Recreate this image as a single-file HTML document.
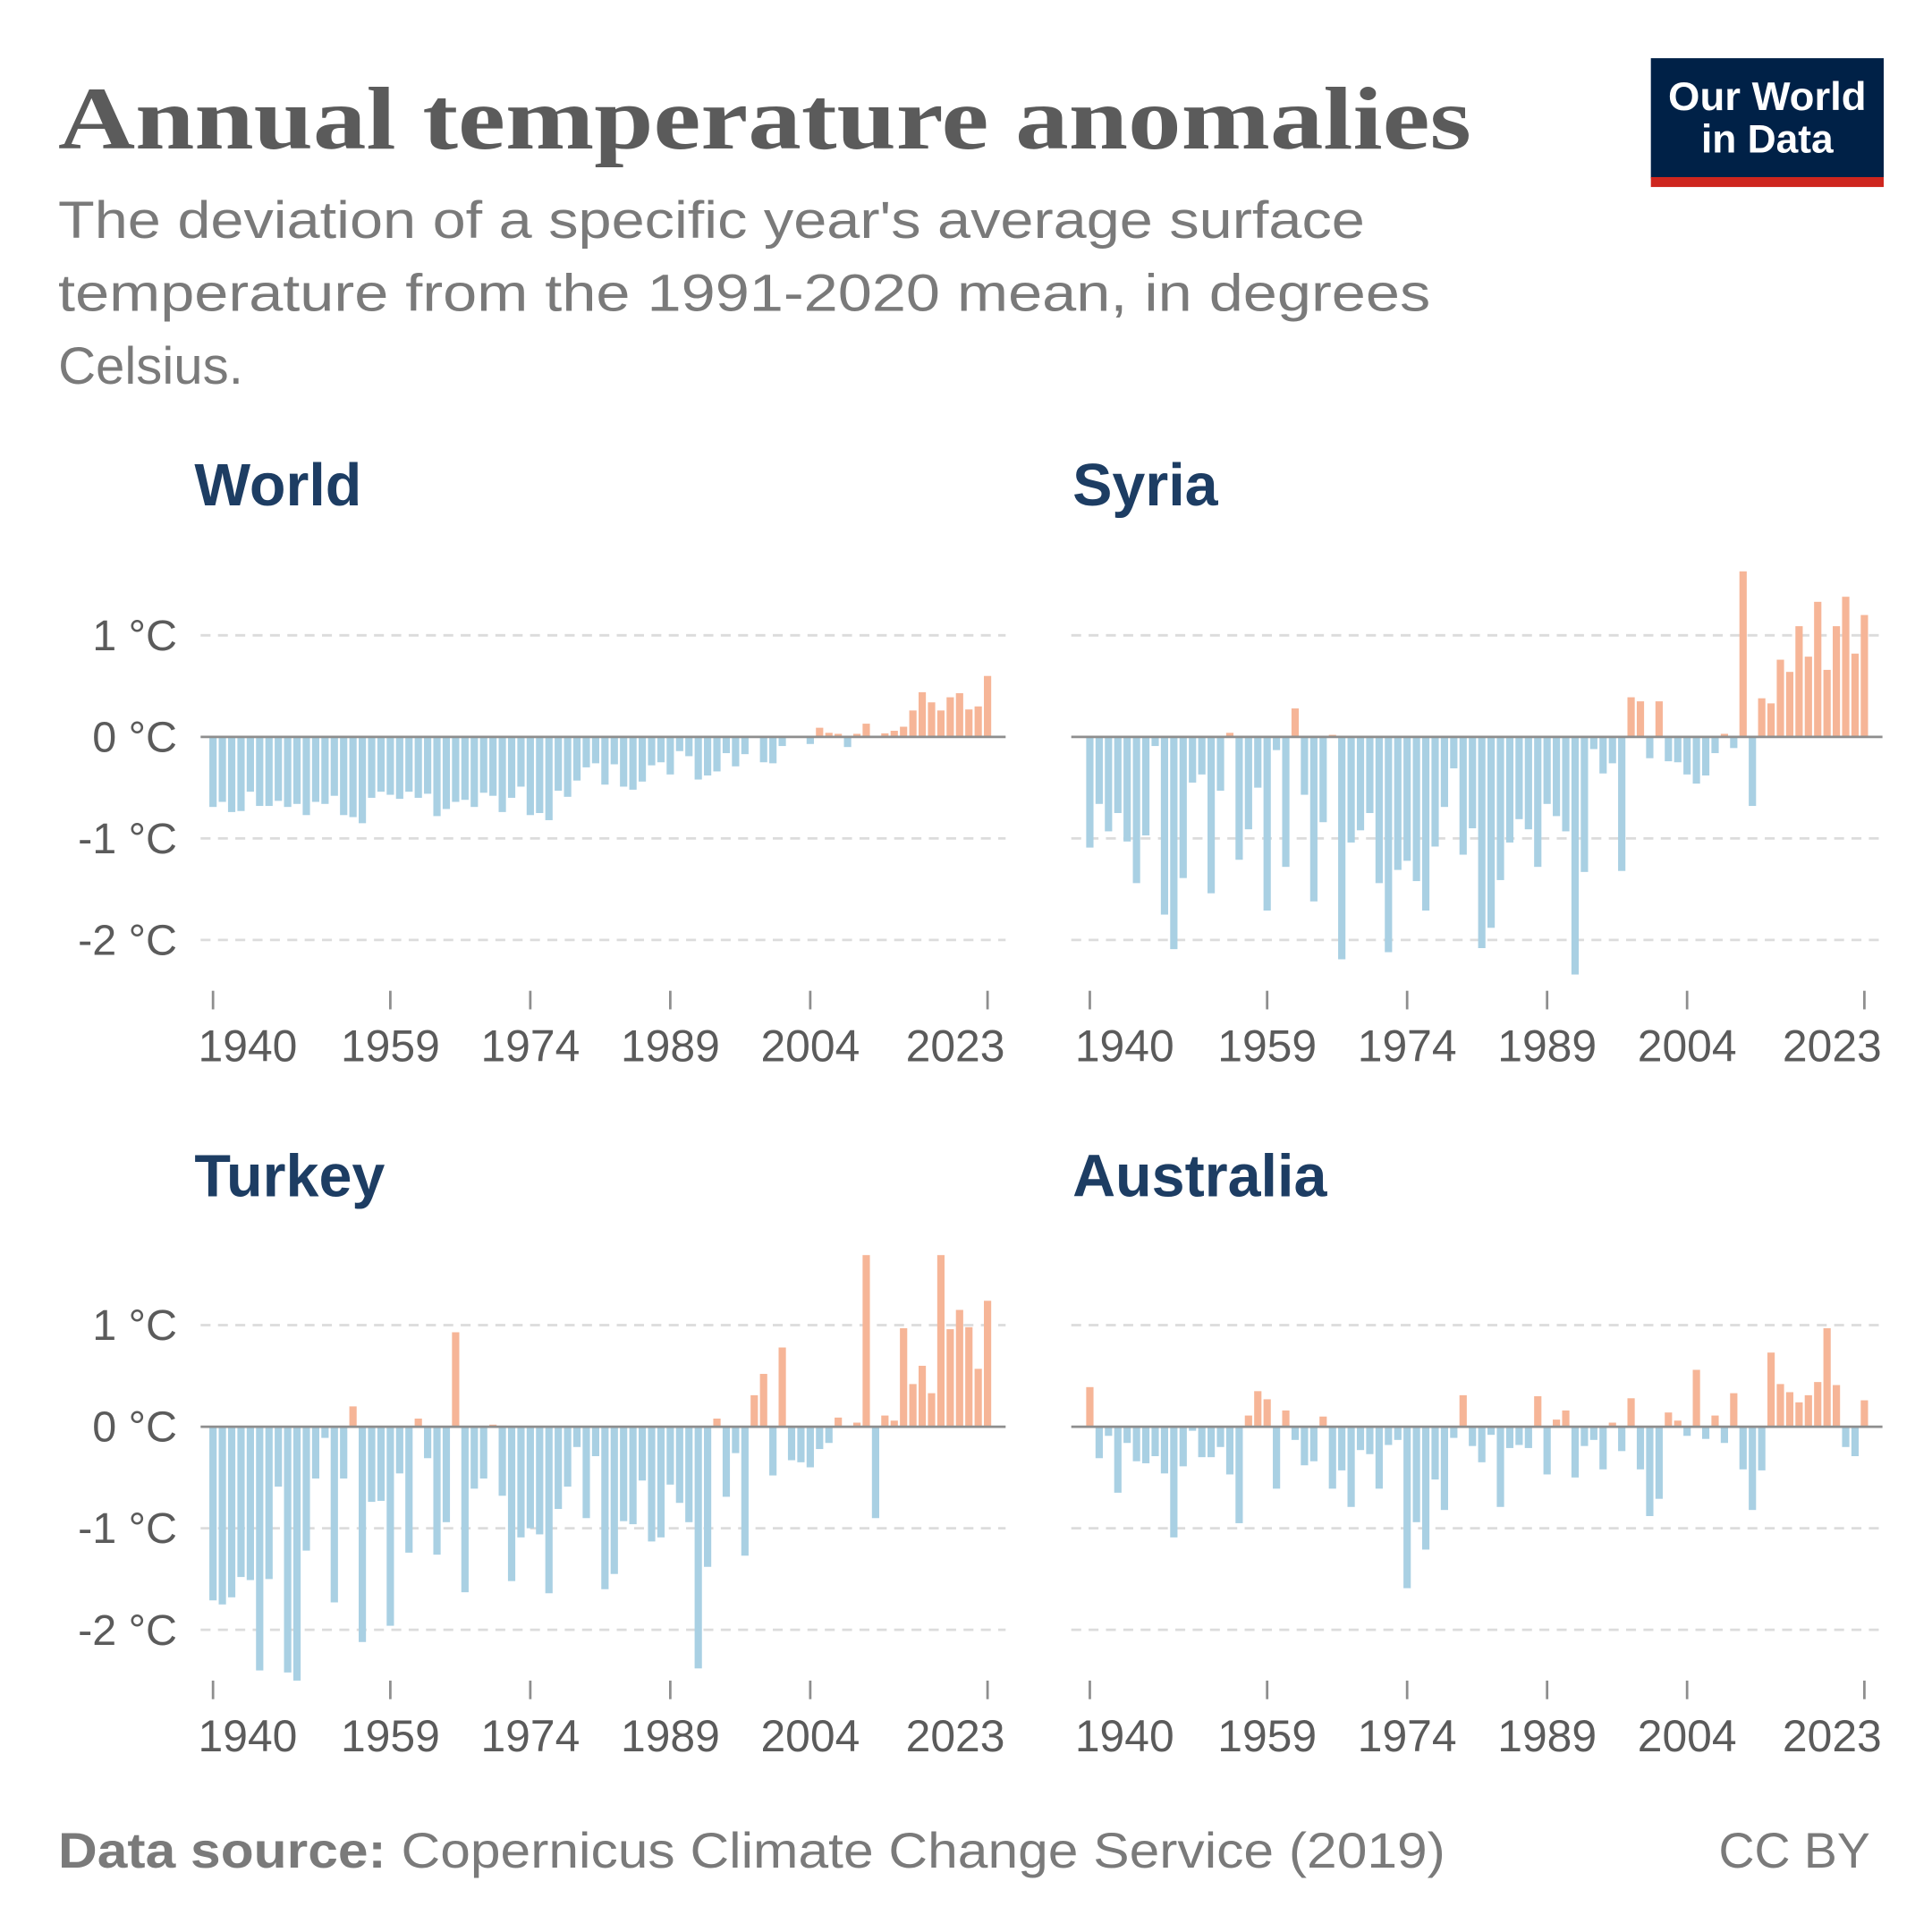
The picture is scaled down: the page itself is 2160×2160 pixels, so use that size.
<!DOCTYPE html>
<html><head><meta charset="utf-8">
<style>
html,body{margin:0;padding:0;background:#fff;}
svg{display:block;}
</style></head>
<body>
<svg id="chart" width="2160" height="2160" viewBox="0 0 1560 1560" xmlns="http://www.w3.org/2000/svg" font-family="'Liberation Sans', sans-serif">
<rect width="1560" height="1560" fill="#fff"/>
<text x="47" y="120" font-family="'Liberation Serif', serif" font-weight="bold" font-size="72" fill="#5b5b5b" textLength="1141" lengthAdjust="spacingAndGlyphs">Annual temperature anomalies</text>
<g font-size="42" fill="#7a7a7a">
<text x="47" y="192" textLength="1055" lengthAdjust="spacingAndGlyphs">The deviation of a specific year's average surface</text>
<text x="47" y="251" textLength="1108" lengthAdjust="spacingAndGlyphs">temperature from the 1991-2020 mean, in degrees</text>
<text x="47" y="310">Celsius.</text>
</g>
<g>
<rect x="1333" y="47" width="188" height="97" fill="#002147"/>
<rect x="1333" y="143" width="188" height="8" fill="#ce261e"/>
<text x="1427" y="89" text-anchor="middle" font-size="32" font-weight="bold" fill="#fff" textLength="160" lengthAdjust="spacingAndGlyphs">Our World</text>
<text x="1427" y="123" text-anchor="middle" font-size="32" font-weight="bold" fill="#fff">in Data</text>
</g>
<g id="panels"></g>
<text x="47" y="1508" font-size="40" fill="#7a7a7a" textLength="1120" lengthAdjust="spacingAndGlyphs"><tspan font-weight="bold">Data source:</tspan> Copernicus Climate Change Service (2019)</text>
<text x="1510" y="1508" text-anchor="end" font-size="40" fill="#7a7a7a">CC BY</text>
</svg>
<script>
const startYear = 1940;
const tickYears = [1940, 1959, 1974, 1989, 2004, 2023];
const yTicks = [1, 0, -1, -2];
const worldValues = [-0.69,-0.64,-0.74,-0.73,-0.54,-0.68,-0.68,-0.63,-0.69,-0.66,-0.77,-0.64,-0.66,-0.58,-0.77,-0.79,-0.85,-0.60,-0.54,-0.57,-0.61,-0.54,-0.60,-0.56,-0.78,-0.71,-0.64,-0.62,-0.69,-0.55,-0.58,-0.74,-0.60,-0.49,-0.77,-0.75,-0.82,-0.53,-0.59,-0.43,-0.30,-0.26,-0.47,-0.27,-0.49,-0.52,-0.44,-0.28,-0.25,-0.37,-0.14,-0.19,-0.42,-0.38,-0.34,-0.16,-0.29,-0.17,0.01,-0.25,-0.26,-0.09,0.0,0.0,-0.07,0.09,0.04,0.03,-0.10,0.03,0.13,0.0,0.035,0.06,0.10,0.26,0.44,0.34,0.26,0.39,0.43,0.27,0.30,0.60];
const syriaValues = [-1.09,-0.66,-0.93,-0.75,-1.03,-1.44,-0.97,-0.09,-1.75,-2.09,-1.39,-0.45,-0.37,-1.54,-0.53,0.04,-1.21,-0.91,-0.50,-1.71,-0.13,-1.28,0.28,-0.57,-1.62,-0.84,0.02,-2.19,-1.04,-0.92,-0.75,-1.44,-2.12,-1.31,-1.22,-1.42,-1.71,-1.08,-0.69,-0.31,-1.16,-0.90,-2.08,-1.88,-1.41,-1.04,-0.81,-0.91,-1.28,-0.66,-0.78,-0.93,-2.34,-1.33,-0.12,-0.36,-0.26,-1.32,0.39,0.35,-0.21,0.35,-0.24,-0.25,-0.37,-0.46,-0.38,-0.16,0.03,-0.11,1.63,-0.68,0.38,0.33,0.76,0.64,1.09,0.79,1.33,0.66,1.09,1.38,0.82,1.20];
const turkeyValues = [-1.71,-1.75,-1.68,-1.48,-1.51,-2.40,-1.50,-0.59,-2.42,-2.50,-1.22,-0.51,-0.11,-1.73,-0.51,0.20,-2.12,-0.74,-0.73,-1.96,-0.46,-1.24,0.08,-0.31,-1.26,-0.94,0.93,-1.63,-0.61,-0.51,0.02,-0.68,-1.52,-1.09,-1.00,-1.06,-1.64,-0.81,-0.59,-0.20,-0.90,-0.29,-1.60,-1.45,-0.93,-0.96,-0.53,-1.13,-1.09,-0.57,-0.75,-0.94,-2.38,-1.38,0.08,-0.69,-0.26,-1.27,0.31,0.52,-0.48,0.78,-0.33,-0.35,-0.40,-0.22,-0.16,0.09,-0.01,0.04,1.69,-0.90,0.11,0.06,0.97,0.42,0.60,0.33,1.69,0.96,1.15,0.98,0.57,1.24];
const australiaValues = [0.39,-0.31,-0.09,-0.65,-0.16,-0.34,-0.36,-0.29,-0.46,-1.09,-0.39,-0.04,-0.30,-0.30,-0.20,-0.47,-0.95,0.11,0.35,0.27,-0.61,0.16,-0.13,-0.38,-0.34,0.10,-0.61,-0.43,-0.79,-0.23,-0.27,-0.61,-0.18,-0.13,-1.59,-0.94,-1.21,-0.52,-0.82,-0.11,0.31,-0.19,-0.35,-0.08,-0.79,-0.21,-0.18,-0.21,0.30,-0.47,0.07,0.16,-0.50,-0.19,-0.13,-0.42,0.04,-0.24,0.28,-0.42,-0.88,-0.71,0.14,0.06,-0.09,0.56,-0.12,0.11,-0.16,0.33,-0.42,-0.82,-0.43,0.73,0.42,0.34,0.24,0.31,0.44,0.97,0.41,-0.20,-0.29,0.26];

const NS = 'http://www.w3.org/2000/svg';
const root = document.getElementById('panels');
function mk(tag, attrs, parent) {
  const e = document.createElementNS(NS, tag);
  for (const k in attrs) e.setAttribute(k, attrs[k]);
  parent.appendChild(e);
  return e;
}
const panels = [
  {title: 'World', key: 'world', vals: worldValues, x0: 172, gx0: 162, gx1: 812, zero: 595, labels: true, ty: 408, tx: 157},
  {title: 'Syria', key: 'syria', vals: syriaValues, x0: 880, gx0: 865, gx1: 1520, zero: 595, labels: false, ty: 408, tx: 866},
  {title: 'Turkey', key: 'turkey', vals: turkeyValues, x0: 172, gx0: 162, gx1: 812, zero: 1152, labels: true, ty: 966, tx: 157},
  {title: 'Australia', key: 'australia', vals: australiaValues, x0: 880, gx0: 865, gx1: 1520, zero: 1152, labels: false, ty: 966, tx: 866}
];
const step = 7.535, perDeg = 82, barW = 5.9;
panels.forEach(p => {
  const g = mk('g', {}, root);
  
  
  const xs = yr => p.x0 + (yr - startYear) * step;
  const ys = v => p.zero - v * perDeg;
  const t = mk('text', {x: p.tx, y: p.ty, 'font-size': 48, 'font-weight': 'bold', fill: '#1d3d63'}, g);
  t.textContent = p.title;
  
  
  yTicks.forEach(v => {
    if (v !== 0) {
      const l = mk('line', {x1: p.gx0, x2: p.gx1, y1: ys(v), y2: ys(v), stroke: '#dcdcdc', 'stroke-width': 2, 'stroke-dasharray': '8,6'}, g);
      
      
    }
    if (p.labels) {
      const lt = mk('text', {x: 143, y: ys(v) + 12, 'text-anchor': 'end', 'font-size': 35, fill: '#5b5b5b'}, g);
      lt.textContent = v + ' °C';
      
      
    }
  });
  p.vals.forEach((v, i) => {
    const y = ys(Math.max(v, 0)), h = Math.abs(v) * perDeg;
    const r = mk('rect', {x: xs(startYear + i) - barW / 2, y: y, width: barW, height: Math.max(h, 0.01), fill: v >= 0 ? '#f6b597' : '#a9d0e3'}, g);
    
    
  });
  const z = mk('line', {x1: p.gx0, x2: p.gx1, y1: p.zero, y2: p.zero, stroke: '#8e8e8e', 'stroke-width': 2}, g);
  
  
  const base = p.zero === 595 ? 800 : 1357;
  tickYears.forEach((yr, k) => {
    const tk = mk('line', {x1: xs(yr), x2: xs(yr), y1: base, y2: base + 15, stroke: '#8e8e8e', 'stroke-width': 2}, g);
    
    
    let anchor = 'middle', lx = xs(yr);
    if (k === 0) { anchor = 'start'; lx = xs(yr) - 12; }
    if (k === tickYears.length - 1) { anchor = 'end'; lx = xs(yr) + 14; }
    const tl = mk('text', {x: lx, y: base + 57, 'text-anchor': anchor, 'font-size': 36, fill: '#5b5b5b'}, g);
    tl.textContent = yr;
    
    
  });
});
</script>
</body></html>
